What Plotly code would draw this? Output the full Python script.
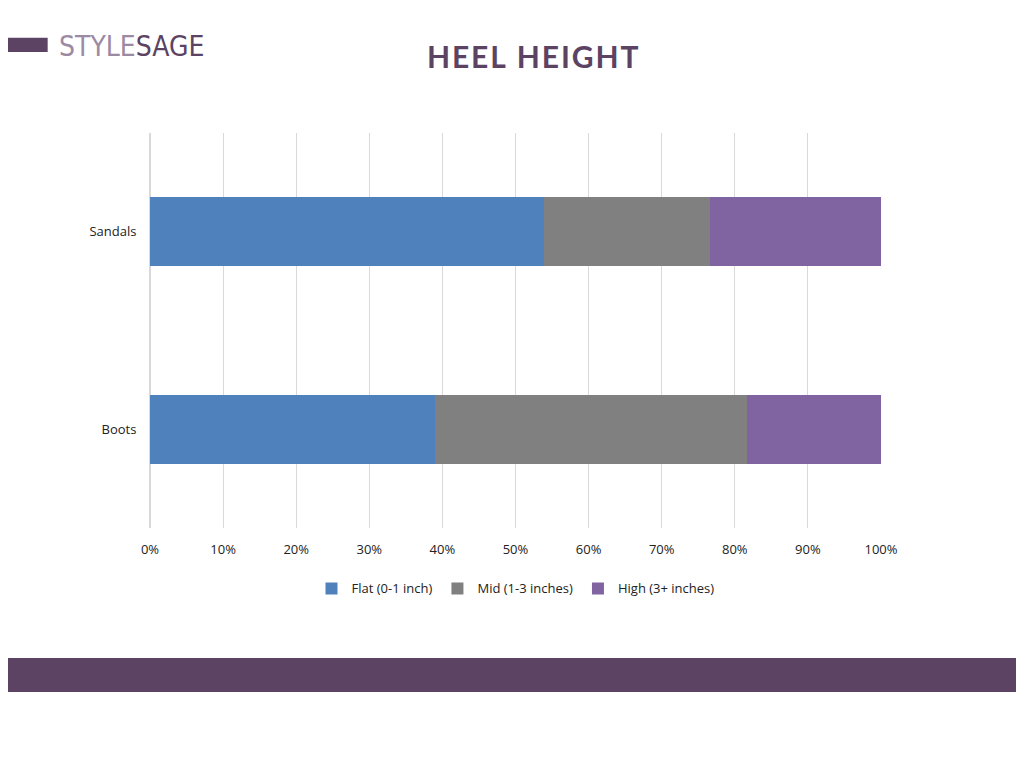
import plotly.graph_objects as go

categories = ["Boots", "Sandals"]
flat = [39.0, 53.9]
mid = [42.7, 22.7]
high = [18.3, 23.4]
series_names = ["Flat (0-1 inch)", "Mid (1-3 inches)", "High (3+ inches)"]
colors = ["#4f81bd", "#808080", "#8064a2"]

fig = go.Figure()
for name, vals, col in zip(series_names, [flat, mid, high], colors):
    fig.add_trace(go.Bar(y=categories, x=vals, name=name, orientation="h",
                         marker=dict(color=col, line=dict(width=0)), width=0.35))

purple = "#5c4363"
hs = "\u200a"
fig.update_layout(
    width=1040, height=776, barmode="stack",
    paper_bgcolor="white", plot_bgcolor="white",
    margin=dict(l=142, r=167, t=125, b=256),
    font=dict(family="Open Sans, Calibri, sans-serif", size=13, color="#222"),
    xaxis=dict(range=[0, 100], dtick=10, ticksuffix="%", showgrid=True,
               gridcolor="#d9d9d9", zeroline=True, zerolinecolor="#d9d9d9",
               showline=False, ticks="", ticklabelstandoff=12),
    yaxis=dict(showgrid=False, ticks="outside", ticklen=10, tickcolor="white"),
    legend=dict(orientation="h", x=0.5, xanchor="center", y=-0.115, yanchor="top",
                traceorder="normal", font=dict(size=13), itemwidth=30),
    shapes=[
        dict(type="rect", xref="paper", yref="paper", x0=-0.25, x1=1.3,
             y0=-0.415, y1=-0.329, fillcolor=purple, line=dict(width=0)),
        dict(type="rect", xref="paper", yref="paper", x0=-0.25, x1=-0.14,
             y0=1.205, y1=1.241, fillcolor=purple, line=dict(width=0)),
    ],
    annotations=[
        dict(text="<b>" + hs.join("HEEL HEIGHT") + "</b>", xref="paper", yref="paper",
             x=0.523, y=1.195, yanchor="middle", showarrow=False,
             font=dict(size=30, color=purple, family="Lato, sans-serif")),
        dict(text="<span style='color:#9c8aa3'>STYLE</span>SAGE", xref="paper",
             yref="paper", x=-0.127, xanchor="left", y=1.218, yanchor="middle", showarrow=False,
             font=dict(size=28, color=purple, family="DejaVu Sans Condensed, Liberation Sans Narrow, sans-serif")),
    ],
)
fig.write_html("out.html")
